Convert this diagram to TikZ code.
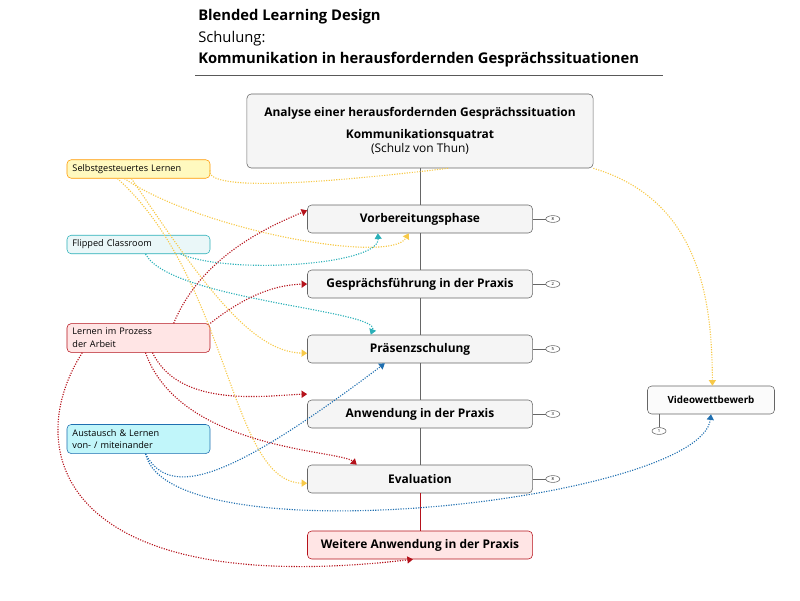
\documentclass[tikz,border=0pt]{standalone}
\usepackage{fontspec}
\setmainfont{Open Sans}
\usetikzlibrary{shapes.geometric,arrows.meta}
\definecolor{gelb}{HTML}{F7C948}
\definecolor{tuerkis}{HTML}{2AB0B8}
\definecolor{rot}{HTML}{B5121B}
\definecolor{blau}{HTML}{1F6FB0}
\tikzset{
  phase/.style={draw=gray!80!black,fill=gray!8,rounded corners=3pt,minimum width=5.625cm,minimum height=0.7cm,font=\fontsize{8.5}{10}\selectfont\bfseries},
  lern/.style={draw,rounded corners=3pt,minimum width=3.575cm,align=left,text width=3.3cm,font=\fontsize{6.5}{9}\selectfont},
  badge/.style={draw=gray!80!black,ellipse,minimum width=.35cm,minimum height=.17cm,inner sep=0pt,font=\fontsize{3}{3}\selectfont},
  verb/.style={densely dotted,thick,-{Triangle[length=4pt,width=5pt]}},
}
\begin{document}
\begin{tikzpicture}[x=0.025cm,y=-0.025cm]
\useasboundingbox (0,0) rectangle (800,600);
%\node [right] at (198,17) {Titel};
\node[anchor=west,inner sep=0pt,font=\fontsize{10.5}{12}\selectfont\bfseries] (t1) at (198,17) {Blended Learning Design};
\node[anchor=west,inner sep=0pt,font=\fontsize{10.5}{12}\selectfont] (t2) at (198,39) {Schulung:};
\node[anchor=west,inner sep=0pt,font=\fontsize{10.5}{12}\selectfont\bfseries] (t3) at (198,60) {Kommunikation in herausfordernden Gesprächssituationen};
\draw[gray!70!black] (195,75) -- (663,75);

\node[phase,minimum width=8.65cm,minimum height=1.85cm,align=center] (ana) at (420,131) {Analyse einer herausfordernden Gesprächssituation\\[6pt]Kommunikationsquatrat\\\mdseries(Schulz von Thun)};
\node[phase] (vor) at (420,219) {Vorbereitungsphase};
\node[phase] (ges) at (420,284) {Gesprächsführung in der Praxis};
\node[phase] (pra) at (420,349) {Präsenzschulung};
\node[phase] (anw) at (420,414) {Anwendung in der Praxis};
\node[phase] (eva) at (420,479) {Evaluation};
\node[phase,draw=rot,fill=red!10] (wei) at (420,545) {Weitere Anwendung in der Praxis};
\node[phase,minimum width=3.175cm,font=\fontsize{7}{9}\selectfont\bfseries,fill=gray!3] (vid) at (711,400) {Videowettbewerb};

\draw[gray!80!black] (ana) -- (vor) (vor) -- (ges) (ges) -- (pra) (pra) -- (anw) (anw) -- (eva);
\draw[rot] (eva) -- (wei);

% Zaehler
\foreach \n/\k in {vor/8,ges/2,pra/5,anw/3,eva/8}{
  \node[badge] (b\n) at ([xshift=0.5cm]\n.east) {\k};
  \draw[gray!80!black] (\n) -- (b\n);
}
\node[badge] (bvid) at (659,431) {1};
\draw[gray!80!black] (bvid) -- (bvid |- vid.south);

\node[lern,draw=orange!80!yellow,fill=orange!20!yellow!25] (sel) at (138.5,169) {Selbstgesteuertes Lernen};
\node[lern,draw=tuerkis,fill=tuerkis!10] (fli) at (138.5,244.5) {Flipped Classroom};
\node[lern,draw=rot,fill=red!10] (pro) at (138.5,338) {Lernen im Prozess\\der Arbeit};
\node[lern,draw=blau,fill=blau!25!cyan!25] (aus) at (138.5,439) {Austausch \& Lernen\\von- / miteinander};

% gelb
\draw[densely dotted,thick,gelb] ([xshift=20pt]ana.south) .. controls (350,180) and (200,195) .. (sel.east);
\draw[verb,gelb] ([xshift=-10pt]sel.south) .. controls (200,230) and (390,265) .. ([xshift=-8pt]vor.south);
\draw[verb,gelb] ([xshift=-5pt]sel.south) .. controls (200,280) and (250,352) .. ([yshift=-3pt]pra.west);
\draw[verb,gelb] ([xshift=-15pt]sel.south) .. controls (230,280) and (230,482) .. ([yshift=-3pt]eva.west);
\draw[verb,gelb] (ana.south east) .. controls (700,200) and (712,300) .. ([xshift=1pt]vid.north);
% tuerkis
\draw[verb,tuerkis] ([xshift=30pt]fli.south) .. controls (230,275) and (380,265) .. ([xshift=-30pt]vor.south);
\draw[verb,tuerkis] ([xshift=5pt]fli.south) .. controls (170,300) and (380,310) .. ([xshift=-35pt]pra.north);
% rot
\draw[verb,rot] ([xshift=25pt]pro.north) .. controls (200,260) and (260,230) .. ([yshift=-4pt]vor.north west);
\draw[verb,rot] (pro.north east) .. controls (240,300) and (270,285) .. (ges.west);
\draw[verb,rot] ([xshift=10pt]pro.south) .. controls (180,410) and (270,395) .. ([yshift=4pt]anw.north west);
\draw[verb,rot] ([xshift=5pt]pro.south) .. controls (180,450) and (340,450) .. ([xshift=-45pt]eva.north);
\draw[verb,rot] ([xshift=-40pt]pro.south) .. controls (20,450) and (60,600) .. ([xshift=-5pt]wei.south);
% blau
\draw[verb,blau] ([xshift=5pt]aus.south) .. controls (170,500) and (230,480) .. ([xshift=-25pt]pra.south);
\draw[verb,blau] ([xshift=5pt]aus.south) .. controls (170,560) and (700,500) .. (vid.south);
\end{tikzpicture}
\end{document}
